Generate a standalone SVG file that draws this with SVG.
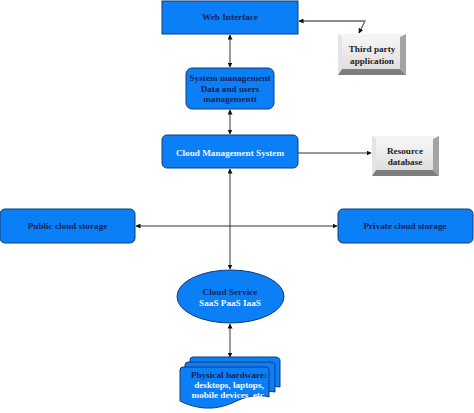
<svg xmlns="http://www.w3.org/2000/svg" width="474" height="413" viewBox="0 0 474 413">
<defs>
<style>
.node{fill:#0b7ff5;stroke:#123a78;stroke-width:1}
.t{font-family:"Liberation Serif","Times New Roman",serif;font-weight:bold;font-size:9.2px;text-anchor:middle}
.dk{fill:#1a1f5a}
.wh{fill:#f2f6ff}
.gt{fill:#222222}
.c{fill:none;stroke:#666666;stroke-width:1.3}
.cd{fill:none;stroke:#333333;stroke-width:1}
</style>
<marker id="ah" viewBox="0 0 10 10" refX="9" refY="5" markerWidth="5" markerHeight="5" orient="auto-start-reverse" markerUnits="userSpaceOnUse">
<path d="M0,0 L10,5 L0,10 Z" fill="#111111"/>
</marker>
<linearGradient id="face" x1="0" y1="0" x2="0" y2="1">
<stop offset="0" stop-color="#f6f6f6"/>
<stop offset="1" stop-color="#dedede"/>
</linearGradient>
</defs>
<rect width="474" height="413" fill="#ffffff"/>

<g id="connectors">
<line class="c" x1="230" y1="35" x2="230" y2="67" marker-start="url(#ah)" marker-end="url(#ah)"/>
<line class="c" x1="230" y1="110" x2="230" y2="134" marker-start="url(#ah)" marker-end="url(#ah)"/>
<line class="c" x1="230" y1="169" x2="230" y2="269" marker-start="url(#ah)" marker-end="url(#ah)"/>
<line class="cd" x1="136" y1="226" x2="337" y2="226" marker-start="url(#ah)" marker-end="url(#ah)"/>
<line class="c" x1="230" y1="324" x2="230" y2="357" marker-start="url(#ah)" marker-end="url(#ah)"/>
<line class="cd" x1="298" y1="153" x2="371" y2="153" marker-end="url(#ah)"/>
<polyline class="c" points="299,21 365,21 359,33" marker-start="url(#ah)" marker-end="url(#ah)"/>
</g>

<g id="web-interface">
<rect class="node" x="162" y="1" width="136" height="33"/>
<text class="t dk" x="230" y="20">Web Interface</text>
</g>

<g id="third-party">
<polygon points="338,34 406,34 400,37 342,37" fill="#f4f4f4"/>
<polygon points="338,34 342,37 342,69 338,75" fill="#e4e4e4"/>
<polygon points="406,34 406,75 400,69 400,37" fill="#a4a4a4"/>
<polygon points="338,75 342,69 400,69 406,75" fill="#7e7e7e"/>
<rect x="342" y="37" width="58" height="32" fill="url(#face)"/>
<text class="t gt" x="372" y="52">Third party</text>
<text class="t gt" x="372" y="64">application</text>
</g>

<g id="system-management">
<rect class="node" x="186" y="68" width="88" height="41" rx="6"/>
<text class="t dk" x="230" y="81">System management</text>
<text class="t dk" x="230" y="92">Data and users</text>
<text class="t dk" x="230" y="102">managementt</text>
</g>

<g id="cloud-management-system">
<rect class="node" x="162" y="135" width="136" height="33" rx="5"/>
<text class="t wh" x="230" y="156">Cloud Management System</text>
</g>

<g id="resource-database">
<polygon points="372,136 439,136 433,139 376,139" fill="#f4f4f4"/>
<polygon points="372,136 376,139 376,170 372,176" fill="#e4e4e4"/>
<polygon points="439,136 439,176 433,170 433,139" fill="#a4a4a4"/>
<polygon points="372,176 376,170 433,170 439,176" fill="#7e7e7e"/>
<rect x="376" y="139" width="57" height="31" fill="url(#face)"/>
<text class="t gt" x="405" y="154">Resource</text>
<text class="t gt" x="405" y="165">database</text>
</g>

<g id="public-cloud-storage">
<rect class="node" x="0" y="209" width="135" height="34" rx="5"/>
<text class="t dk" x="67.5" y="229">Public cloud storage</text>
</g>

<g id="private-cloud-storage">
<rect class="node" x="338" y="209" width="135" height="34" rx="5"/>
<text class="t dk" x="405" y="229">Private cloud storage</text>
</g>

<g id="cloud-service">
<ellipse class="node" cx="230.5" cy="296.5" rx="53.5" ry="26.5"/>
<text class="t dk" x="230" y="295">Cloud Service</text>
<text class="t wh" x="230" y="306">SaaS PaaS IaaS</text>
</g>

<g id="physical-hardware">
<path class="node" d="M193,357 H275 Q280,357 280,361 V387 C268,385 262,387 256,390 L190,390 V360 Q190,357 193,357 Z"/>
<path class="node" d="M188,362 H270 Q275,362 275,366 V392 C263,390 257,392 251,395 L185,395 V365 Q185,362 188,362 Z"/>
<path class="node" d="M183,367 H266 Q269,367 269,370 V397 C258,394 246,396 232,403 C214,411 196,409 180,401 V370 Q180,367 183,367 Z"/>
<text class="t dk" x="229" y="378">Physical hardware:</text>
<text class="t wh" x="229" y="388">desktops, laptops,</text>
<text class="t wh" x="229" y="398">mobile devices, etc.</text>
</g>
</svg>
